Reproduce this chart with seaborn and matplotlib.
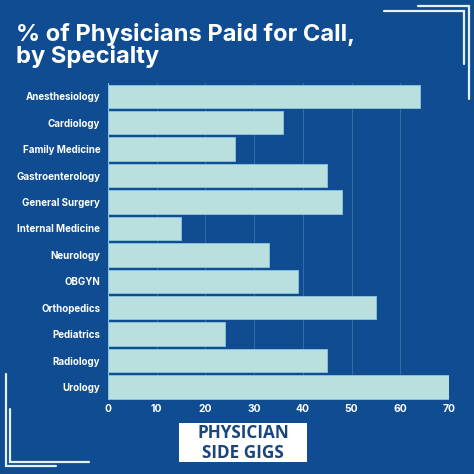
import matplotlib
matplotlib.use("Agg")
import matplotlib.pyplot as plt
from matplotlib.lines import Line2D
from matplotlib.patches import Rectangle
import pandas as pd
import seaborn as sns

specialties = ["Anesthesiology", "Cardiology", "Family Medicine", "Gastroenterology",
               "General Surgery", "Internal Medicine", "Neurology", "OBGYN",
               "Orthopedics", "Pediatrics", "Radiology", "Urology"]
percent_paid = [64, 36, 26, 45, 48, 15, 33, 39, 55, 24, 45, 70]
x_ticks = [0, 10, 20, 30, 40, 50, 60, 70]
title_text = "% of Physicians Paid for Call,\nby Specialty"
logo_lines = ["PHYSICIAN", "SIDE GIGS"]

BG = "#0F4C92"
BAR = "#BADFDF"
W = H = 474

sns.set_theme(style="white")
plt.rcParams["font.family"] = ["Inter", "DejaVu Sans"]

fig = plt.figure(figsize=(W / 100, H / 100), dpi=100, facecolor=BG)
ax = fig.add_axes([108 / W, 1 - 400.3 / H, (449 - 108) / W, (400.3 - 83) / H], facecolor=BG)

df = pd.DataFrame({"specialty": specialties, "percent": percent_paid})
sns.barplot(data=df, x="percent", y="specialty", color=BAR, saturation=1, width=0.885,
            edgecolor="#8CC4DC", linewidth=0.6, ax=ax, zorder=3)

ax.set_xlim(0, 70)
ax.set_ylim(11.5, -0.5)
ax.set_xticks(x_ticks)
ax.set_xlabel("")
ax.set_ylabel("")
ax.grid(axis="x", color="#3F70A8", linewidth=0.6, zorder=0)
ax.grid(axis="y", visible=False)
for side in ax.spines.values():
    side.set_visible(False)
ax.axvline(0, color="#8CC4DC", linewidth=0.8, zorder=4)
ax.tick_params(axis="both", length=0)
ax.tick_params(axis="y", pad=5.5, labelcolor="white", labelsize=7.0)
ax.tick_params(axis="x", pad=3, labelcolor="white", labelsize=7.4)
for lab in ax.get_xticklabels() + ax.get_yticklabels():
    lab.set_fontweight("bold")

fig.text(16.5 / W, 1 - 34 / H, title_text.split("\n")[0], color="white", fontsize=17.1,
         fontweight="bold", va="center", ha="left")
fig.text(16.5 / W, 1 - 57 / H, title_text.split("\n")[1], color="white", fontsize=17.1,
         fontweight="bold", va="center", ha="left")

# decorative corner brackets
def frame(xs, ys, lw=1.6):
    fig.add_artist(Line2D([x / W for x in xs], [1 - y / H for y in ys], color="#E4F1F5",
                          linewidth=lw, solid_joinstyle="miter"))

frame([417.5, 468.7, 468.7], [6, 6, 99])
frame([384, 464, 464], [11, 11, 63.5])
frame([6, 6, 56], [374, 466, 466])
frame([10, 10, 89], [409, 462, 462])

# logo box
fig.add_artist(Rectangle((179 / W, 1 - 462 / H), 128 / W, 39 / H, transform=fig.transFigure,
                         facecolor="white", edgecolor="none"))
fig.text(243 / W, 1 - 433 / H, logo_lines[0], color="#17457F", fontsize=12.3, fontweight="bold",
         ha="center", va="center", family="Open Sans")
fig.text(243 / W, 1 - 453 / H, logo_lines[1], color="#17457F", fontsize=12.3, fontweight="bold",
         ha="center", va="center", family="Open Sans")

fig.savefig("out.png", dpi=100, facecolor=BG)
